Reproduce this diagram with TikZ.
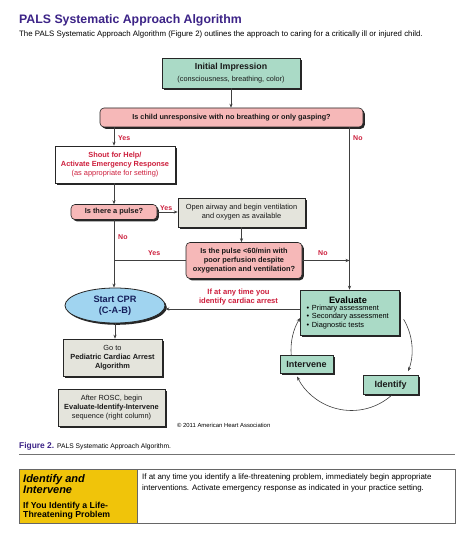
\documentclass[tikz,border=0pt]{standalone}
\usepackage{fontspec}
\setmainfont{Liberation Sans}
\usetikzlibrary{shapes.geometric,shadows,arrows.meta,calc}
\definecolor{gfill}{RGB}{170,218,198}
\definecolor{pfill}{RGB}{246,184,184}
\definecolor{grfill}{RGB}{228,228,220}
\definecolor{bfill}{RGB}{160,212,240}
\definecolor{redtxt}{RGB}{205,30,60}
\definecolor{ttl}{RGB}{60,35,135}
\definecolor{yel}{RGB}{240,196,10}
\definecolor{navy}{RGB}{20,30,90}
\newcommand\fsz[2]{\fontsize{#1}{#2}\selectfont}
\begin{document}
\begin{tikzpicture}[x=1pt,y=-1pt,
  base/.style={draw=black!85, line width=0.6pt, inner sep=0pt, align=center, text=black!90,
     drop shadow={shadow xshift=1.8pt, shadow yshift=-1.8pt, opacity=1, fill=black!85}},
  gbox/.style={base, fill=gfill},
  pbox/.style={base, fill=pfill, rounded corners=4pt},
  grbox/.style={base, fill=grfill},
  wbox/.style={base, fill=white},
  conn/.style={draw=black!75, line width=0.6pt},
  arr/.style={conn, -{Stealth[length=4pt,width=3.2pt]}},
  lbl/.style={text=redtxt, font=\fsz{7}{8}\bfseries, inner sep=0pt},
  plain/.style={inner sep=0pt, anchor=base west}
]
\useasboundingbox (0,0) rectangle (474,545);
\fill[white] (0,0) rectangle (474,545);

% header
\node[plain, text=ttl, font=\fsz{12.3}{14}\bfseries] (title) at (19,23.5) {PALS Systematic Approach Algorithm};
\node[plain, font=\fsz{7.85}{9}] (sub) at (19,36.5) {The PALS Systematic Approach Algorithm (Figure 2) outlines the approach to caring for a critically ill or injured child.};

% boxes
\node[gbox, minimum width=138pt, minimum height=30pt] (init) at (231,73)
  {{\fsz{8.8}{10}\bfseries Initial Impression}\\[0.5pt]{\fsz{7.3}{8}(consciousness, breathing, color)}};
\node[pbox, minimum width=263pt, minimum height=19pt, font=\fsz{7.3}{8.5}\bfseries] (q1) at (231.5,117.5)
  {Is child unresponsive with no breathing or only gasping?};
\node[wbox, minimum width=120pt, minimum height=37pt, text=redtxt, font=\fsz{7.4}{9}] (shout) at (115,164.5)
  {\textbf{Shout for Help/}\\\textbf{Activate Emergency Response}\\(as appropriate for setting)};
\node[pbox, minimum width=86pt, minimum height=15pt, font=\fsz{7.4}{9}\bfseries] (pulse) at (114,212)
  {Is there a pulse?};
\node[grbox, minimum width=127pt, minimum height=29pt, font=\fsz{7.4}{9}] (airway) at (241.5,212.5)
  {Open airway and begin ventilation\\and oxygen as available};
\node[pbox, minimum width=116pt, minimum height=36pt, font=\fsz{7.4}{9}\bfseries] (p60) at (244,260.5)
  {Is the pulse <60/min with\\poor perfusion despite\\oxygenation and ventilation?};
\node[ellipse, base, fill=bfill, line width=0.8pt, minimum width=100pt, minimum height=35pt, text=navy, font=\fsz{9.2}{10.5}\bfseries] (cpr) at (115,305.5)
  {Start CPR\\(C-A-B)};
\node[grbox, minimum width=99pt, minimum height=37pt, font=\fsz{7.4}{9}] (goto) at (112.5,357.5)
  {Go to\\\textbf{Pediatric Cardiac Arrest}\\\textbf{Algorithm}};
\node[grbox, minimum width=107pt, minimum height=37pt, font=\fsz{7.4}{9}] (rosc) at (111.5,407.5)
  {After ROSC, begin\\\textbf{Evaluate-Identify-Intervene}\\sequence (right column)};
\node[gbox, minimum width=99pt, minimum height=45pt] (eval) at (349.5,312.5) {};
\node[plain, anchor=base, font=\fsz{9.2}{10}\bfseries] (evh) at (348,303.3) {Evaluate};
\node[plain, font=\fsz{7.4}{8.5}] (ev1) at (306.5,310.3) {•\hspace{2.6pt}Primary assessment};
\node[plain, font=\fsz{7.4}{8.5}] (ev2) at (306.5,318.6) {•\hspace{2.6pt}Secondary assessment};
\node[plain, font=\fsz{7.4}{8.5}] (ev3) at (306.5,327) {•\hspace{2.6pt}Diagnostic tests};
\node[gbox, minimum width=53pt, minimum height=18pt, font=\fsz{9}{10}\bfseries] (interv) at (306.5,364) {Intervene};
\node[gbox, minimum width=55pt, minimum height=19pt, font=\fsz{9}{10}\bfseries] (ident) at (390.5,385) {Identify};

% connectors
\draw[arr] (init.south) -- (init.south |- q1.north);
\draw[arr] (q1.south -| pulse.north) -- (shout.north -| pulse.north);
\draw[arr] (q1.south -| eval.north) -- (eval.north);
\draw[arr] (shout.south -| pulse.north) -- (pulse.north);
\draw[arr] (pulse.east) -- (pulse.east -| airway.west);
\draw[arr] (airway.south) -- (airway.south |- p60.north);
\draw[arr] (pulse.south) -- (pulse.south |- cpr.north);
\draw[conn] (p60.west) -- (p60.west -| pulse.south);
\draw[arr] (p60.east) -- (p60.east -| eval.north);
\draw[arr] ([yshift=3.5pt]eval.west) -- ([yshift=3.5pt]eval.west -| cpr.east);
\draw[arr] (cpr.south) -- (cpr.south |- goto.north);

% cycle
\coordinate (cc) at (351.5,350);
\draw[arr] ($(cc)+(-30.6:60.5)$) arc[start angle=-30.6, end angle=20.4, radius=60.5];
\draw[arr] ($(cc)+(48.6:60.5)$) arc[start angle=48.6, end angle=154, radius=60.5];
\draw[arr] ($(cc)+(175:60.5)$) arc[start angle=175, end angle=212, radius=60.5];

% labels
\node[lbl, anchor=base west] (yes1) at (118,141) {Yes};
\node[lbl, anchor=base west] (no1) at (353,141) {No};
\node[lbl, anchor=base west] (yes2) at (160,210) {Yes};
\node[lbl, anchor=base west] (no2) at (118,239) {No};
\node[lbl, anchor=base west] (yes3) at (148,255) {Yes};
\node[lbl, anchor=base west] (no3) at (318,255) {No};
\node[lbl, align=center, font=\fsz{7.6}{8.5}\bfseries] (anytime) at (238.5,297) {If at any time you\\identify cardiac arrest};
\node[plain, font=\fsz{5.9}{7}] (copy) at (177,427) {© 2011 American Heart Association};

% caption
\node[plain] (cap) at (19,448.5) {{\fsz{8.4}{9}\bfseries\color{ttl}Figure 2.}\hspace{3pt}{\fsz{6.7}{8}PALS Systematic Approach Algorithm.}};
\draw[black!55, line width=1pt] (19,454) -- (455,454);

% table
\node[draw=black!60, line width=0.8pt, minimum width=436pt, minimum height=54pt, inner sep=0pt, anchor=north west] (tbl) at (19,469) {};
\node[fill=yel, draw=black!60, line width=0.8pt, minimum width=118pt, minimum height=54pt, inner sep=0pt, anchor=north west] (ycell) at (19,469) {};
\node[plain, font=\fsz{11}{12}\bfseries\itshape] (t1) at (23,482.7) {Identify and};
\node[plain, font=\fsz{11}{12}\bfseries\itshape] (t2) at (23,493.6) {Intervene};
\node[plain, font=\fsz{8.7}{9.5}\bfseries] (t3) at (23,508.3) {If You Identify a Life-};
\node[plain, font=\fsz{8.7}{9.5}\bfseries] (t4) at (23,517.3) {Threatening Problem};
\node[plain, font=\fsz{7.9}{9}] (t5) at (142,479) {If at any time you identify a life-threatening problem, immediately begin appropriate};
\node[plain, font=\fsz{7.9}{9}] (t6) at (142,490.5) {interventions. Activate emergency response as indicated in your practice setting.};
\end{tikzpicture}
\end{document}
